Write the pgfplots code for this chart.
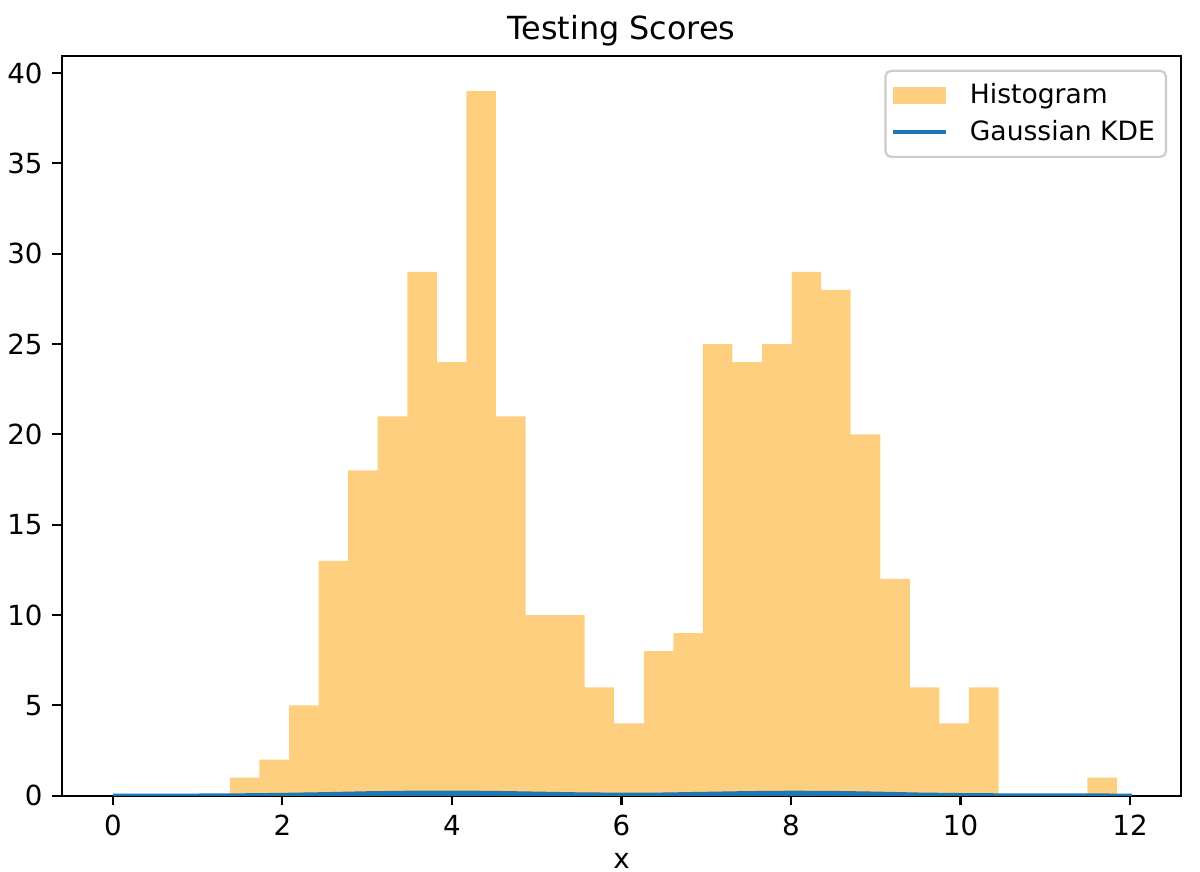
\documentclass[border=0pt]{standalone}
\usepackage{fontspec}
\setmainfont{DejaVu Sans}
\usepackage{pgfplots}
\pgfplotsset{compat=1.18}
\definecolor{histfill}{RGB}{254,207,127}
\definecolor{kdeblue}{RGB}{31,119,180}

\pgfplotstableread{
edge count
1.381 1
1.730 2
2.079 5
2.428 13
2.776 18
3.125 21
3.474 29
3.823 24
4.171 39
4.520 21
4.869 10
5.218 10
5.566 6
5.915 4
6.264 8
6.613 9
6.962 25
7.310 24
7.659 25
8.008 29
8.357 28
8.705 20
9.054 12
9.403 6
9.752 4
10.100 6
10.449 0
10.798 0
11.147 0
11.496 1
11.845 1
}\histdata

\pgfplotstableread{
x dens
0.0 0.000
0.5 0.001
1.0 0.004
1.5 0.015
2.0 0.040
2.5 0.080
3.0 0.130
3.5 0.160
4.0 0.170
4.5 0.150
5.0 0.110
5.5 0.070
6.0 0.050
6.5 0.060
7.0 0.100
7.5 0.140
8.0 0.160
8.5 0.150
9.0 0.110
9.5 0.060
10.0 0.030
10.5 0.015
11.0 0.008
11.5 0.006
12.0 0.003
}\kdedata

\begin{document}
\begin{tikzpicture}
\useasboundingbox (-22.4pt,-27.5pt) rectangle (411.2pt,287.5pt);
\begin{axis}[
    anchor=south west, at={(0,0)},
    scale only axis,
    width=404.3pt, height=267.3pt,
    xmin=-0.6, xmax=12.6,
    ymin=0, ymax=40.95,
    xtick={0,2,...,12},
    ytick={0,5,...,40},
    xtick pos=bottom, ytick pos=left,
    tick align=outside,
    major tick length=3.5pt,
    every tick/.style={black, line width=0.8pt},
    axis line style={line width=0.8pt},
    tick label style={font=\fontsize{10}{12}\selectfont},
    /pgf/number format/assume math mode=true,
    title={Testing Scores},
    title style={font=\fontsize{11.5}{14}\selectfont, yshift=-6pt},
    xlabel={x},
    xlabel style={font=\fontsize{10}{12}\selectfont, yshift=0.5pt},
    legend style={at={(1,1)}, anchor=north east, xshift=-5pt, yshift=-5pt,
        font=\fontsize{9.6}{11}\selectfont,
        draw=black!20, rounded corners=2pt, line width=0.8pt,
        row sep=0.5pt, inner xsep=2pt, inner ysep=2.5pt,
        /tikz/every odd column/.append style={column sep=6pt}},
    legend image post style={sharp corners},
    legend cell align=left,
]
\addplot [ybar interval, fill=histfill, draw=none, area legend,
    legend image code/.code={\fill[histfill] (0pt,-3.2pt) rectangle (19pt,3.2pt);}]
    table [x=edge, y=count] {\histdata};
\addlegendentry{Histogram}
\addplot [kdeblue, line width=1.5pt, fill=kdeblue, fill opacity=0.9,
    legend image code/.code={\draw[kdeblue, line width=1.5pt] (0pt,0pt) -- (19pt,0pt);}]
    table [x=x, y=dens] {\kdedata} \closedcycle;
\addlegendentry{Gaussian KDE}
\end{axis}
\end{tikzpicture}
\end{document}
